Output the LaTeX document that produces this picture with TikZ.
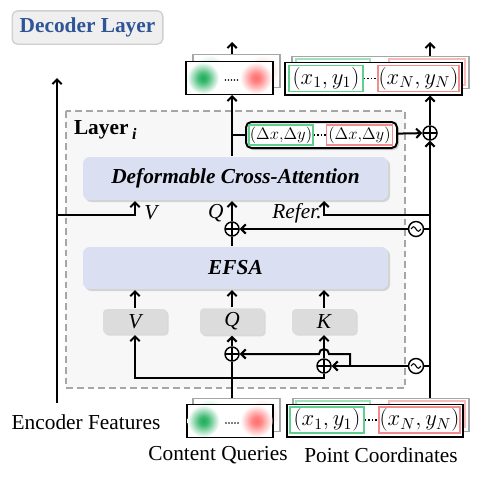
\RequirePackage{fix-cm}
\documentclass[tikz,border=0pt]{standalone}
\usepackage{amsmath}
\usepackage{fontspec}
\setmainfont{Liberation Serif}
\usepackage{tikz}
\usetikzlibrary{arrows.meta, positioning, calc, shadows}

\definecolor{titleblue}{HTML}{2F5597}
\definecolor{titlefill}{HTML}{EFEFEF}
\definecolor{titleline}{HTML}{CFCFCF}
\definecolor{layerfill}{HTML}{F7F7F7}
\definecolor{layerline}{HTML}{A6A6A6}
\definecolor{attnfill}{HTML}{DAE0F2}
\definecolor{projfill}{HTML}{DCDCDC}
\definecolor{ptgreen}{HTML}{5FCF8E}
\definecolor{ptred}{HTML}{F28C8C}
\definecolor{blobgreen}{HTML}{1EAE5A}
\definecolor{blobred}{HTML}{FF6E6E}

\pgfdeclareradialshading{greenblob}{\pgfpoint{0bp}{0bp}}{color(0bp)=(blobgreen); color(7bp)=(blobgreen!85!white); color(25bp)=(white); color(50bp)=(white)}
\pgfdeclareradialshading{redblob}{\pgfpoint{0bp}{0bp}}{color(0bp)=(blobred); color(7bp)=(blobred!85!white); color(25bp)=(white); color(50bp)=(white)}

% soft green ... red query strip (centre x, centre y, opacity)
\newcommand{\querystrip}[3]{%
  \shade[shading=greenblob, opacity=#3] (#1-26.5,#2) circle[radius=16];
  \shade[shading=redblob, opacity=#3] (#1+26.5,#2) circle[radius=16];
  \foreach \k in {-2,...,2}
    \fill[opacity=#3] (#1+2+\k*3,#2+2) circle[radius=0.9];
}

\begin{document}
\begin{tikzpicture}[x=0.75pt, y=-0.75pt, line width=1.5pt,
    font=\fontsize{16}{19}\selectfont,
    arr/.style={-{Straight Barb[length=3.5pt,width=7pt]}},
    attn/.style={rounded corners=5pt, fill=attnfill, minimum width=228.75pt,
      drop shadow={shadow xshift=1.5pt, shadow yshift=-1.5pt, opacity=0.3},
      font=\fontsize{16}{19}\selectfont\bfseries\itshape},
    proj/.style={rounded corners=3pt, fill=projfill, minimum width=48pt, minimum height=18.75pt,
      drop shadow={shadow xshift=1.2pt, shadow yshift=-1.2pt, opacity=0.25},
      font=\fontsize{16}{19}\selectfont\itshape},
    adder/.style={circle, draw, fill=white, line width=1.1pt, minimum size=10.5pt, inner sep=0pt,
      path picture={\draw[line width=1.1pt] (path picture bounding box.north) -- (path picture bounding box.south)
        (path picture bounding box.west) -- (path picture bounding box.east);}},
    posenc/.style={circle, draw, fill=white, line width=1.1pt, minimum size=11.25pt, inner sep=0pt,
      path picture={\draw[line width=0.8pt] ([xshift=2pt]path picture bounding box.west)
        sin ++(1.8pt,1.7pt) cos ++(1.8pt,-1.7pt) sin ++(1.8pt,-1.7pt) cos ++(1.8pt,1.7pt);}},
    frontbox/.style={draw, fill=white, line width=1pt, minimum height=24.5pt},
    backbox/.style={draw=black!35, fill=white, line width=0.8pt, minimum height=24.5pt},
    ptbox/.style={draw=#1, line width=0.9pt, minimum height=19.5pt, inner sep=0.5pt,
      font=\fontsize{17}{19}\selectfont},
    lab/.style={font=\fontsize{16}{19}\selectfont\itshape},
  ]
  \useasboundingbox (0,0) rectangle (485,482);

  % title
  \node[draw=titleline, fill=titlefill, rounded corners=4pt, line width=1pt, minimum width=113pt,
    minimum height=25pt, text=titleblue, font=\fontsize{16}{19}\selectfont\bfseries] (title) at (87.5,27.5) {Decoder Layer};

  % layer i
  \draw[draw=layerline, fill=layerfill, line width=1pt, dash pattern=on 5pt off 3pt] (66,111) rectangle (405,388);
  \node[anchor=west, inner sep=0pt] (layername) at (73,130)
    {\textbf{Layer}\,\raisebox{-4pt}{\fontsize{12}{12}\selectfont\bfseries\itshape i}};

  \node[attn, minimum height=32.25pt] (dca) at (235.5,178.5) {Deformable Cross-Attention};
  \node[attn, minimum height=31.5pt] (efsa) at (235.5,268) {EFSA};
  \node[proj] (vbox) at (135,321.5) {V};
  \node[proj] (qbox) at (232,321.5) {Q};
  \node[proj] (kbox) at (324,321.5) {K};

  \node[adder] (pd) at (232,229) {};
  \node[adder] (pq) at (232,354) {};
  \node[adder] (pk) at (324,366) {};
  \node[adder] (pout) at (430,133) {};
  \node[posenc] (pe1) at (416,229) {};
  \node[posenc] (pe2) at (416,366) {};

  \node[lab, anchor=west] (vlab) at (139,213) {V};
  \node[lab, anchor=east] (qlab) at (229,213) {Q};
  \node[lab, anchor=east] (reflab) at (327,213) {Refer.};

  % offsets
  \node[frontbox, rounded corners=4pt, line width=1.5pt, minimum width=113.25pt, minimum height=19.5pt,
    drop shadow={shadow xshift=1.5pt, shadow yshift=-1.5pt, opacity=0.35}] (delta) at (321.5,135) {};
  \node[ptbox=ptgreen, minimum width=48pt, minimum height=15pt, font=\fontsize{12.5}{13}\selectfont] (dxa) at (281,135) {$(\Delta x{,}\Delta y)$};
  \node[ptbox=ptred, minimum width=50pt, minimum height=15pt, font=\fontsize{12.5}{13}\selectfont] (dxb) at (359.5,135) {$(\Delta x{,}\Delta y)$};
  \draw[line width=1.2pt, dash pattern=on 1.2pt off 1.4pt] (dxa) -- (dxb);

  % updated queries / points
  \node[backbox, minimum width=65.25pt] (cqoutb) at (236.5,71) {};
  \querystrip{236.5}{71}{0.35}
  \node[frontbox, minimum width=65.25pt] (cqout) at (229.5,78) {};
  \querystrip{229.5}{78}{1}

  \node[backbox, minimum width=132.75pt] (pcoutb) at (380.5,72.5) {};
  \draw[ptgreen!60, line width=0.9pt] (296,59) rectangle (370,85);
  \draw[ptred!60, line width=0.9pt] (389,59) rectangle (465,85);
  \node[frontbox, minimum width=132.75pt] (pcout) at (373.5,78.5) {};
  \node[ptbox=ptgreen, minimum width=55.5pt] (xatop) at (326,78.5) {$(x_1,y_1)$};
  \node[ptbox=ptred, minimum width=59.25pt] (xbtop) at (418.5,78.5) {$(x_N,y_N)$};
  \draw[line width=1.2pt, dash pattern=on 1.2pt off 1.4pt] (xatop) -- (xbtop);

  % inputs
  \node[backbox, minimum width=65.25pt] (cqinb) at (236.5,415) {};
  \querystrip{236.5}{415}{0.35}
  \node[frontbox, minimum width=64.5pt] (cqin) at (230,421) {};
  \querystrip{230}{421}{1}

  \node[backbox, minimum width=132pt] (pcinb) at (381,415) {};
  \draw[ptgreen!60, line width=0.9pt] (296,401) rectangle (370,427);
  \draw[ptred!60, line width=0.9pt] (389,401) rectangle (465,427);
  \node[frontbox, minimum width=132pt] (pcin) at (375,420.5) {};
  \node[ptbox=ptgreen, minimum width=55.5pt] (xabot) at (327,420) {$(x_1,y_1)$};
  \node[ptbox=ptred, minimum width=59.25pt] (xbbot) at (419.5,420) {$(x_N,y_N)$};
  \draw[line width=1.2pt, dash pattern=on 1.2pt off 1.4pt] (xabot) -- (xbbot);

  \node (enclab) at (86,422) {Encoder Features};
  \node (cqlab) at (218,455) {Content Queries};
  \node (pclab) at (381,455) {Point Coordinates};

  % encoder features
  \coordinate (encin) at (57,403);
  \coordinate (encout) at (57,78);
  \coordinate (encv) at (57,215);
  \draw[arr] (encin) -- (encout);
  \draw[arr] (encv) -| (dca.south -| vbox);

  % queries into EFSA
  \coordinate (split) at (232,378);
  \coordinate (kbr) at (350,366);
  \draw (cqinb.north -| pq) -- (pq);
  \draw[arr] (pq) -- (qbox);
  \draw[arr] (pk) |- (split) -| (vbox);
  \draw[arr] (pk) -- (pk |- kbox.south);
  \draw[arr] (vbox) -- (vbox |- efsa.south);
  \draw[arr] (qbox) -- (qbox |- efsa.south);
  \draw[arr] (kbox) -- (kbox |- efsa.south);
  \draw[arr] (pe2) -- (pk);
  \draw[arr] (kbr) -- ++(0,-12) -- ++(-21,0) arc[start angle=0, end angle=-180, radius=5] -- (pq);

  % positional encodings and reference points
  \coordinate (refr) at (430,215);
  \draw (pe1) -- (pe1 -| pout);
  \draw (pe2) -- (pe2 -| pout);
  \draw[arr] (pcinb.north -| pout) -- (pout);
  \draw[arr] (refr) -| (dca.south -| pk);
  \draw (efsa.north -| pd) -- (pd);
  \draw[arr] (pe1) -- (pd);
  \draw[arr] (pd) -- (pd |- dca.south);

  % outputs
  \coordinate (cqtip) at (232,42);
  \coordinate (pctip) at (430,42);
  \draw[arr] (dca.north -| pd) -- (cqout.south -| pd);
  \draw (delta) -- (delta.west -| pd);
  \draw[arr] (delta) -- (pout);
  \draw[arr] (pout) -- (pout |- pcout.south);
  \draw[arr] (cqoutb.north -| pd) -- (cqtip);
  \draw[arr] (pcoutb.north -| pout) -- (pctip);
\end{tikzpicture}
\end{document}
